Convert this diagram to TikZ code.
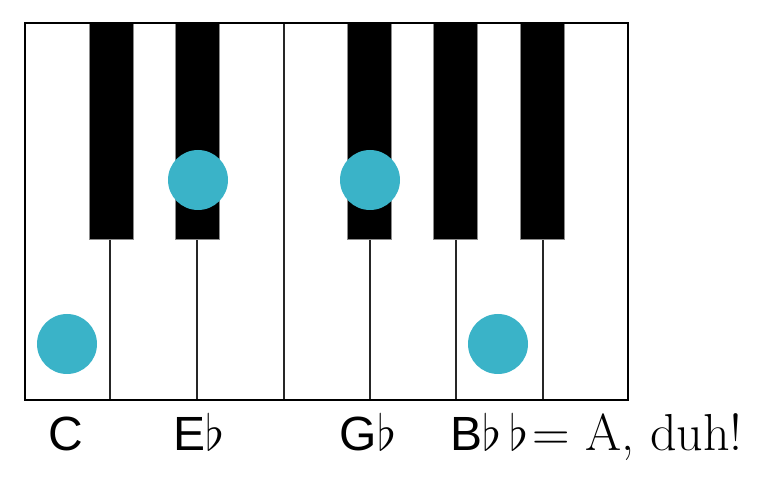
\documentclass[tikz,border=0pt]{standalone}
\usepackage{fontspec}
\setsansfont{Liberation Sans}
\definecolor{dotblue}{HTML}{3AB3C8}
\tikzset{
  blackkey/.style={fill=black,draw=black!45,line width=0.4pt},
  keyline/.style={draw=black!85,line width=0.8pt},
  dot/.style={circle,fill=dotblue,minimum size=30pt,inner sep=0pt},
  notename/.style={anchor=base,inner sep=0pt,font=\fontsize{24}{28}\selectfont\sffamily}
}
\begin{document}
\begin{tikzpicture}[x=0.5pt,y=-0.5pt]
\useasboundingbox (0,0) rectangle (768,480);
% white keys
\draw [keyline] (284,23) -- (284,400);
\foreach \x in {110,197,370,456,543}
  \draw [keyline] (\x,239) -- (\x,400);
% black keys
\foreach \x in {89,175,347,433,520}
  \draw [blackkey] (\x,23) rectangle (\x+44,239);
\draw [line width=1pt] (25,23) rectangle (628,400);
% played notes
\node [dot] (n0) at (67,344) {};
\node [dot] (n1) at (198,180) {};
\node [dot] (n2) at (370,180) {};
\node [dot] (n3) at (498,344) {};
% names
\node [notename] (l0) at (66,451) {C};
\node [notename] (l1) at (199,451) {E$\flat$};
\node [notename] (l2) at (368,451) {G$\flat$};
\node [notename,anchor=base west] (l3) at (450,451) {B$\flat$\,$\flat$\kern2pt{\rmfamily\fontsize{26}{30}\selectfont = A, duh!}};
\end{tikzpicture}
\end{document}
